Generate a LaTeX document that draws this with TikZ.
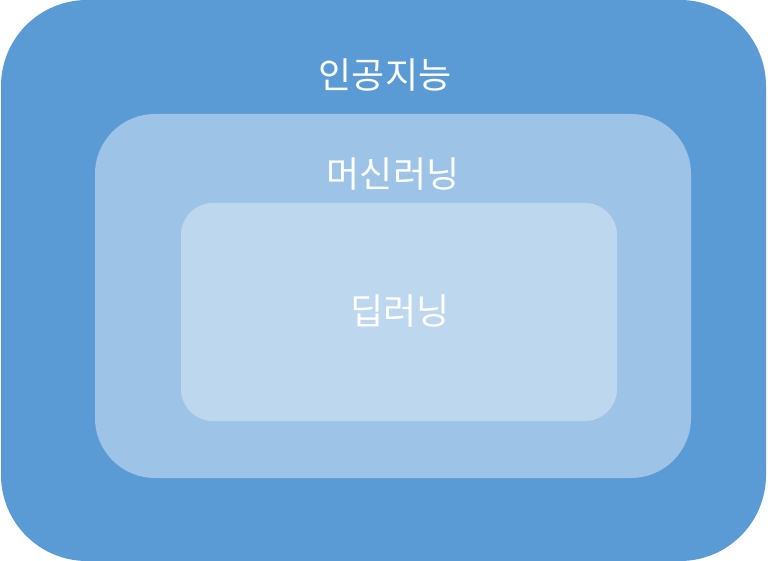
\documentclass[tikz,border=0pt]{standalone}
\usepackage{fontspec}
\newfontfamily\krfont{Noto Sans CJK KR}
\definecolor{outerblue}{HTML}{5B9BD5}
\definecolor{midblue}{HTML}{9DC3E6}
\definecolor{innerblue}{HTML}{BDD7EE}
\begin{document}
\begin{tikzpicture}[x=1pt,y=-1pt,
  lbl/.style={text=white,font=\krfont\fontsize{36}{42}\selectfont,inner sep=0pt,anchor=center}]
\useasboundingbox[fill=white] (0,0) rectangle (768,561);
\fill[outerblue,rounded corners=86pt] (1,0) rectangle (766,561);
\fill[midblue,rounded corners=60pt] (95,114) rectangle (691,478);
\fill[innerblue,rounded corners=32pt] (181,203) rectangle (617,421);
\node[lbl] (ai) at (385,75) {인공지능};
\node[lbl] (ml) at (393,174) {머신러닝};
\node[lbl] (dl) at (400,311) {딥러닝};
\end{tikzpicture}
\end{document}
